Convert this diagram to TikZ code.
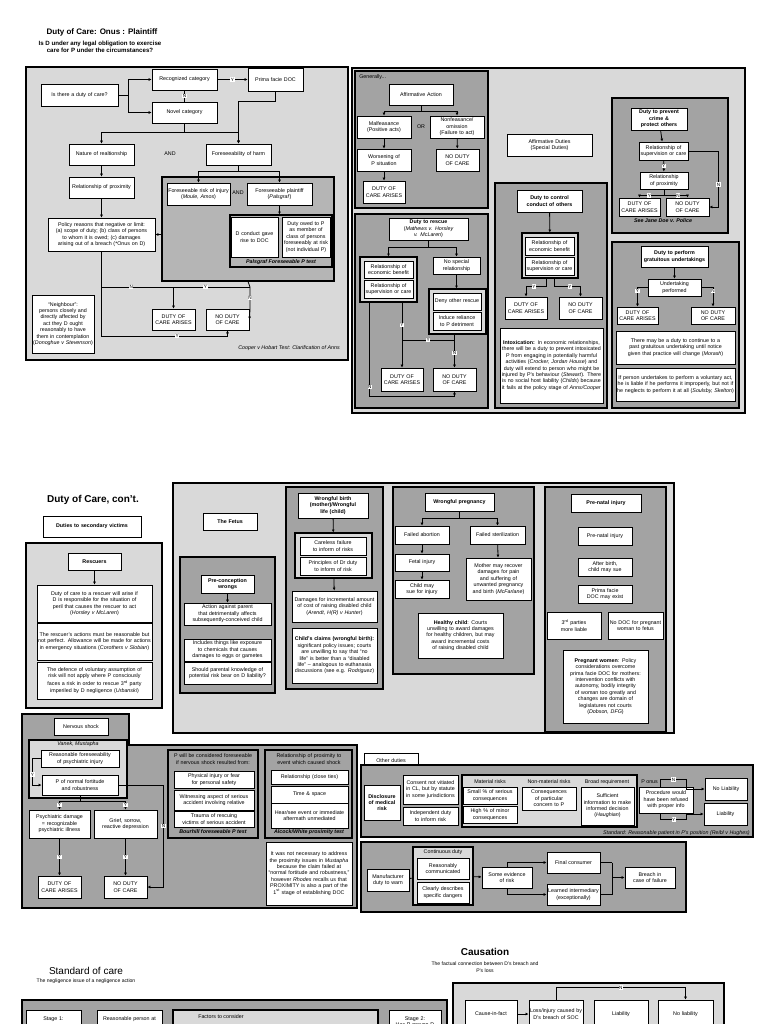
\documentclass[tikz,border=0pt]{standalone}
\usepackage{fontspec}
\setmainfont{Liberation Sans}
\usetikzlibrary{arrows.meta}
\hyphenpenalty=10000 \exhyphenpenalty=10000
\newcommand\fs{\fontsize{4}{4.8}\selectfont}
\newcommand\bxx[7][bx]{\pgfmathsetmacro\bw{#5*0.75}\pgfmathsetmacro\bh{#6*0.75}\pgfmathsetmacro\tw{max(#5*0.75-1.5,1)}\node[#1,minimum width=\bw pt,minimum height=\bh pt,text width=\tw pt] (#2) at ({#3+#5/2},{#4+#6/2}) {#7};}
\tikzset{
 bx/.style={draw,fill=white,line width=0.7pt,align=center,font=\fs,inner sep=0.5pt},
 pl/.style={draw,fill=gray!30,line width=0.8pt,inner sep=0pt},
 pd/.style={draw,fill=gray!72,line width=0.8pt,inner sep=0pt},
 pm/.style={draw,fill=gray!58,line width=0.8pt,inner sep=0pt},
 ln/.style={line width=0.6pt},
 arr/.style={line width=0.6pt,-{Latex[length=2.2pt,width=2.2pt]}},
 lbl/.style={fill=white,font=\fontsize{3.5}{4}\selectfont,inner sep=0.4pt},
 captxt/.style={font=\fs\itshape,inner sep=0pt},
 tx/.style={font=\fs,inner sep=0pt,align=center}
}
\begin{document}
\begin{tikzpicture}[x=0.75pt,y=-0.75pt]
\useasboundingbox (0,0) rectangle (768,1024);
\clip (0,0) rectangle (768,1024);
% ---------- Top left ----------
\node[font=\fontsize{6}{7}\selectfont\bfseries] (t1) at (102,32) {Duty of Care: Onus : Plaintiff};
\node[font=\fontsize{4.6}{5.6}\selectfont\bfseries,align=center] (t1b) at (100,47) {Is D under any legal obligation to exercise\\care for P under the circumstances?};
\bxx[pl]{tlp}{26}{67}{322}{293}{}
\bxx{isdoc}{41}{84}{77}{22}{Is there a duty of care?}
\bxx{rec}{152}{69}{65}{21}{Recognized category}
\bxx{pf}{248}{68}{55}{23}{Prima facie DOC}
\bxx{nov}{152}{102}{65}{21}{Novel category}
\bxx{nat}{69}{144}{65}{21}{Nature of realtionship}
\node[tx] (and1) at (170,154) {AND};
\bxx{foh}{206}{144}{65}{21}{Foreseeability of harm}
\bxx{rop}{69}{177}{65}{21}{Relationship of proximity}
\bxx[pm]{fpan}{162}{177}{172}{104}{}
\bxx{fri}{167}{183}{63}{22}{Foreseeable risk of injury\\(\textit{Moule, Amos})}
\node[tx] (and2) at (238,193) {AND};
\bxx{fpl}{247}{183}{65}{22}{Foreseeable plaintiff\\(\textit{Palsgraf})}
\bxx[pm]{pals}{230}{215}{102}{52}{}
\bxx{dcg}{231}{217}{47}{40}{D conduct gave rise to DOC}
\bxx{dow}{282}{217}{48}{40}{Duty owed to P as member of class of persons foreseeably at risk (not individual P)}
\node[captxt] (palc) at (281,262) {\textbf{\textit{Palsgraf} Foreseeable P test}};
\bxx{pol}{48}{218}{107}{33}{Policy reasons that negative or limit: (a) scope of duty; (b) class of persons to whom it is owed; (c) damages arising out of a breach (*Onus on D)}
\bxx{nei}{32}{295}{62}{58}{``Neighbour'':\\persons closely and directly affected by act they D ought reasonably to have them in contemplation\\(\textit{Donoghue v Stevenson})}
\bxx{dca}{152}{309}{43}{21}{DUTY OF CARE ARISES}
\bxx{nda}{206}{309}{43}{21}{NO DUTY OF CARE}
\node[captxt,anchor=east] (cpc) at (340,348) {Cooper v Hobart Test: Clarification of Anns};
\draw[ln] (isdoc.east) -- ++(10,0) coordinate (s1);
\draw[arr] (s1) |- (rec.west);
\draw[arr] (s1) |- (nov.west);
\draw[arr] (rec) -- node[lbl]{Y} (pf);
\draw[ln] (rec) -- node[lbl]{N} (nov);
\draw[arr] (pf.south) -- ++(0,10) -| (foh.north);
\draw[ln] (nov.south) -- ++(0,9) coordinate (s2);
\draw[arr] (s2) -| (nat.north);
\draw[arr] (s2) -| (foh.north);
\draw[arr] (nat) -- (rop);
\draw[arr] (rop) -- (pol);
\draw[ln] (foh.south) -- ++(0,6) coordinate (s3);
\draw[arr] (s3) -| (fri.north);
\draw[arr] (s3) -| (fpl.north);
\draw[arr] (fpl.south) -- (fpl.south |- pals.north);
\draw[arr] (fpan.west |- pol.east) -- (pol.east);
\coordinate (j1) at (101.5,287);
\coordinate (j2) at (250,287);
\draw[ln] (pol.south) -- (j1);
\draw[ln] (fpan.south) -- (j2);
\draw[ln] (j1) -- node[lbl,pos=.2]{N} node[lbl,pos=.7]{Y} (j2);
\draw[arr] (j1 -| dca.north) -- (dca.north);
\draw[arr] (j2) -- node[lbl]{N} ++(0,22) -- (nda.east);
\draw[arr] (j1) -- ++(0,49) -| node[lbl,pos=.3]{Y} (nda.south);
% ---------- Top right ----------
\bxx[pl]{trp}{352}{68}{393}{345}{}
\bxx[pd]{genp}{355}{71}{133}{137}{}
\node[tx,anchor=west] (gen) at (359,77) {Generally...};
\bxx{aff}{389}{84}{64}{21}{Affirmative Action}
\bxx{mal}{357}{116}{54}{22}{Malfeasance\\(Positive acts)}
\node[tx] (or1) at (421,127) {OR};
\bxx{non}{430}{116}{54}{22}{Nonfeasance/\\omission\\(Failure to act)}
\bxx{wor}{357}{149}{54}{22}{Worsening of P situation}
\bxx{nd2}{436}{149}{43}{22}{NO DUTY OF CARE}
\bxx{dca2}{363}{181}{42}{22}{DUTY OF CARE ARISES}
\draw[ln] (aff.south) -- ++(0,6) coordinate (a1);
\draw[arr] (a1) -| (mal.north);
\draw[arr] (a1) -| (non.north);
\draw[arr] (mal) -- (wor);
\draw[arr] (wor) -- (dca2);
\draw[arr] (non) -- (nd2);
\bxx{afd}{507}{134}{85}{22}{Affirmative Duties\\(Special Duties)}
% rescue
\bxx[pd]{resp}{355}{214}{133}{194}{}
\bxx{res}{389}{218}{79}{22}{\textbf{Duty to rescue}\\(\textit{Mathews v. Horsley v. McLaren})}
\bxx[pl]{rfl}{360}{257}{57}{45}{}
\bxx{reb}{364}{261}{49}{17}{Relationship of economic benefit}
\bxx{rsc}{364}{280}{49}{18}{Relationship of supervision or care}
\bxx{nsr}{433}{257}{47}{17}{No special relationship}
\bxx[pl]{rfr}{429}{289}{57}{45}{}
\bxx{dor}{433}{293}{48}{17}{Deny other rescue}
\bxx{irp}{433}{312}{48}{18}{Induce reliance to P detriment}
\bxx{dca3}{381}{368}{42}{23}{DUTY OF CARE ARISES}
\bxx{nd3}{433}{368}{43}{23}{NO DUTY OF CARE}
\draw[ln] (res.south) -- ++(0,7) coordinate (r1);
\draw[arr] (r1) -| (rfl.north);
\draw[arr] (r1) -| (nsr.north);
\draw[arr] (nsr.south) -- (nsr.south |- rfr.north);
\draw[arr] (dca3.north |- rfl.south) -- node[lbl,pos=.35]{Y} (dca3.north);
\draw[arr] ([xshift=-14pt]rfl.south) -- ([xshift=-14pt]rfl.south |- 0,396) node[lbl,pos=.9]{N} -| (nd3.south);
\draw[arr] (nd3.north |- rfr.south) -- node[lbl,pos=.55]{N} (nd3.north);
\draw[ln] (nd3.north |- 0,340) -- node[lbl]{Y} (dca3.north |- 0,340);
% control
\bxx[pd]{ccp}{495}{183}{112}{225}{}
\bxx{dcc}{517}{190}{65}{22}{\textbf{Duty to control conduct of others}}
\bxx[pl]{cfr}{522}{233}{56}{45}{}
\bxx{ceb}{525}{237}{49}{18}{Relationship of economic benefit}
\bxx{csc}{525}{257}{49}{18}{Relationship of supervision or care}
\bxx{dca4}{505}{297}{42}{22}{DUTY OF CARE ARISES}
\bxx{nd4}{559}{297}{43}{22}{NO DUTY OF CARE}
\bxx{intx}{500}{328}{103}{75}{\textbf{Intoxication:} In economic relationships, there will be a duty to prevent intoxicated P from engaging in potentially harmful activities (\textit{Crocker, Jordan House}) and duty will extend to person who might be injured by P's behaviour (\textit{Stewart}). There is no social host liability (\textit{Childs}) because it fails at the policy stage of \textit{Anns/Cooper}}
\draw[arr] (dcc) -- (cfr);
\draw[arr] ([xshift=-3pt]cfr.south) -- ++(0,8) -| node[lbl,pos=.3]{Y} (dca4.north);
\draw[arr] ([xshift=3pt]cfr.south) -- ++(0,8) -| node[lbl,pos=.3]{Y} (nd4.north);
% prevent crime
\bxx[pd]{pcp}{612}{98}{116}{135}{}
\bxx{pcr}{631}{108}{56}{22}{\textbf{Duty to prevent crime \& protect others}}
\bxx{pcs}{639}{142}{49}{18}{Relationship of supervision or care}
\bxx{pcx}{640}{172}{48}{17}{Relationship of proximity}
\bxx{dca5}{619}{198}{41}{18}{DUTY OF CARE ARISES}
\bxx{nd5}{666}{198}{43}{18}{NO DUTY OF CARE}
\node[captxt] (jd) at (663,221) {\textbf{See \textit{Jane Doe v. Police}}};
\draw[arr] (pcr) -- (pcs);
\draw[arr] (pcs) -- node[lbl]{Y} (pcx);
\draw[ln] (pcx.south) -- ++(0,6) coordinate (p1);
\draw[arr] (p1) -| node[lbl,pos=.3]{Y} (dca5.north);
\draw[arr] (p1) -| node[lbl,pos=.3]{N} (nd5.north);
\draw[arr] (pcs.east) -- ++(30,0) |- node[lbl,pos=.3]{N} (nd5.east);
% gratuitous
\bxx[pd]{gup}{612}{242}{127}{166}{}
\bxx{gdu}{641}{246}{67}{21}{\textbf{Duty to perform gratuitous undertakings}}
\bxx{und}{648}{279}{53}{17}{Undertaking performed}
\bxx{dca6}{617}{307}{41}{17}{DUTY OF CARE ARISES}
\bxx{nd6}{691}{307}{44}{17}{NO DUTY OF CARE}
\bxx{tmb}{616}{331}{119}{33}{There may be a duty to continue to a past gratuitous undertaking until notice given that practice will change (\textit{Morash})}
\bxx{ipu}{616}{368}{119}{33}{If person undertakes to perform a voluntary act, he is liable if he performs it improperly, but not if he neglects to perform it at all (\textit{Soulsby, Skelton})}
\draw[arr] (gdu) -- (und);
\draw[arr] (und.west) -| node[lbl,pos=.6]{Y} (dca6.north);
\draw[arr] (und.east) -| node[lbl,pos=.6]{N} (nd6.north);
% ---------- Middle ----------
\node[font=\fontsize{7.5}{9}\selectfont\bfseries] (t2) at (93,500) {Duty of Care, con't.};
\bxx{dsv}{43}{516}{98}{21}{\textbf{Duties to secondary victims}}
\bxx[pl]{rsp}{26}{543}{136}{165}{}
\bxx{resc}{68}{553}{53}{17}{\textbf{Rescuers}}
\bxx{rs1}{37}{585}{115}{37}{Duty of care to a rescuer will arise if D is responsible for the situation of peril that causes the rescuer to act\\(\textit{Horsley v McLaren})}
\bxx{rs2}{37}{623}{115}{37}{The rescuer's actions must be reasonable but not perfect. Allowance will be made for actions in emergency situations (\textit{Corothers v Slobian})}
\bxx{rs3}{37}{662}{115}{37}{The defence of voluntary assumption of risk will not apply where P consciously faces a risk in order to rescue 3\textsuperscript{rd} party imperiled by D negligence (\textit{Urbanski})}
\draw[arr] (resc) -- (rs1);
\bxx[pl]{fep}{173}{483}{501}{250}{}
\bxx{fet0}{203}{513}{54}{17}{\textbf{The Fetus}}
\bxx[pd]{pcwp}{180}{557}{95}{136}{}
\bxx{pcw}{201}{575}{53}{18}{\textbf{Pre-conception wrongs}}
\bxx{act}{184}{603}{87}{22}{Action against parent that detrimentally affects subsequently-conceived child}
\bxx{inc}{184}{639}{87}{22}{Includes things like exposure to chemicals that causes damages to eggs or gametes}
\bxx{spk}{184}{662}{87}{22}{Should parental knowledge of potential risk bear on D liability?}
\draw[arr] (pcw) -- (act);
\bxx[pd]{wbp}{286}{487}{97}{202}{}
\bxx{wb}{298}{493}{70}{25}{\textbf{Wrongful birth (mother)/Wrongful life (child)}}
\bxx[pl]{wbf}{295}{533}{77}{45}{}
\bxx{cfi}{300}{537}{66}{18}{Careless failure to inform of risks}
\bxx{pdd}{300}{557}{66}{18}{Principles of Dr duty to inform of risk}
\bxx{dmg}{292}{591}{85}{31}{Damages for incremental amount of cost of raising disabled child\\(\textit{Arendt, H(R) v Hunter})}
\bxx{chc}{292}{628}{85}{55}{\textbf{Child's claims (wrongful birth):} significant policy issues; courts are unwilling to say that ``no life'' is better than a ``disabled life'' -- analogous to euthanasia discussions (see e.g. \textit{Rodriguez})}
\draw[arr] (wb) -- (wbf);
\draw[arr] (wbf) -- (dmg);
\bxx[pd]{wpp}{393}{487}{141}{187}{}
\bxx{wp}{425}{493}{69}{18}{\textbf{Wrongful pregnancy}}
\bxx{fab}{395}{526}{54}{18}{Failed abortion}
\bxx{fst}{470}{526}{55}{18}{Failed sterilization}
\bxx{fti}{395}{554}{54}{17}{Fetal injury}
\bxx{cms}{395}{580}{54}{18}{Child may sue for injury}
\bxx{mmr}{466}{558}{65}{42}{Mother may recover damages for pain and suffering of unwanted pregnancy and birth (\textit{McFarlane})}
\bxx{hch}{418}{613}{85}{45}{\textbf{Healthy child}: Courts unwilling to award damages for healthy children, but may award incremental costs of raising disabled child}
\draw[ln] (wp.south) -- ++(0,7) coordinate (w1);
\draw[arr] (w1) -| (fab.north);
\draw[arr] (w1) -| (fst.north);
\draw[arr] (fab) -- (fti);
\draw[arr] (fti) -- (cms);
\draw[arr] (fst) -- (mmr);
\bxx[pd]{pnp}{545}{487}{121}{245}{}
\bxx{pni0}{571}{494}{70}{18}{\textbf{Pre-natal injury}}
\bxx{pni}{578}{527}{54}{18}{Pre-natal injury}
\bxx{abc}{578}{558}{54}{18}{After birth, child may sue}
\bxx{pfd}{578}{585}{54}{18}{Prima facie DOC may exist}
\bxx{tpl}{547}{612}{54}{27}{3\textsuperscript{rd} parties more liable}
\bxx{ndp}{608}{612}{55}{27}{No DOC for pregnant woman to fetus}
\bxx{pgw}{563}{650}{85}{73}{\textbf{Pregnant women}: Policy considerations overcome prima facie DOC for mothers: intervention conflicts with autonomy, bodily integrity of woman too greatly and changes are domain of legislatures not courts\\(\textit{Dobson, DFG})}
% ---------- Nervous shock ----------
\draw[line width=0.8pt,fill=gray!72] (22,714) -- (129,714) -- (129,745) -- (357,745) -- (357,908) -- (22,908) -- cycle;
\bxx{nsh}{54}{718}{54}{17}{Nervous shock}
\bxx[pl]{vmf}{29}{740}{98}{58}{}
\node[captxt] (vm) at (78,744) {Vanek, Mustapha};
\bxx{rfp}{41}{750}{78}{17}{Reasonable foreseeability of psychiatric injury}
\bxx{pnf}{42}{775}{76}{20}{P of normal fortitude and robustness}
\bxx{psy}{29}{810}{61}{28}{Psychiatric damage = recognizable psychiatric illness}
\bxx{gri}{94}{810}{63}{28}{Grief, sorrow, reactive depression}
\bxx{dca7}{38}{876}{43}{22}{DUTY OF CARE ARISES}
\bxx{nd7}{104}{876}{43}{22}{NO DUTY OF CARE}
\draw[arr] (rfp.west) -- ++(-8,0) |- node[lbl,pos=.3]{Y} (pnf.west);
\draw[ln] (pnf.south) -- ++(0,6) coordinate (n1);
\draw[arr] (n1) -| node[lbl,pos=.7]{Y} (psy.north);
\draw[arr] (n1) -| node[lbl,pos=.7]{Y} (gri.north);
\draw[arr] (psy) -- node[lbl]{Y} (dca7);
\draw[arr] (gri) -- node[lbl]{Y} (nd7);
\draw[arr] (pnf.east) -- ++(45,0) |- node[lbl,pos=.2]{N} (nd7.east);
\bxx[pd]{bhp}{168}{750}{90}{88}{}
\node[tx,font=\fs,text width=64pt] (bht) at (213,759) {P will be considered foreseeable if nervous shock resulted from:};
\bxx{phy}{174}{771}{80}{17}{Physical injury or fear for personal safety}
\bxx{wit}{174}{790}{80}{20}{Witnessing aspect of serious accident involving relative}
\bxx{tra}{174}{811}{80}{16}{Trauma of rescuing victims of serious accident}
\node[captxt] (bhc) at (213,832) {\textbf{\textit{Bourhill} foreseeable P test}};
\bxx[pd]{alp}{265}{750}{87}{88}{}
\node[tx,text width=62pt] (alt) at (309,759) {Relationship of proximity to event which caused shock};
\bxx{clt}{271}{770}{77}{14}{Relationship (close ties)}
\bxx{tsp}{271}{786}{77}{17}{Time \& space}
\bxx{hse}{271}{803}{77}{25}{Hear/see event or immediate aftermath unmediated}
\node[captxt] (alc) at (309,832) {\textbf{\textit{Alcock/White} proximity test}};
\bxx{inn}{266}{842}{86}{63}{It was not necessary to address the proximity issues in \textit{Mustapha} because the claim failed at ``normal fortitude and robustness,'' however \textit{Rhodes} recalls us that PROXIMITY is also a part of the 1\textsuperscript{st} stage of establishing DOC}
% ---------- Other duties ----------
\bxx{odu}{364}{753}{54}{16}{Other duties}
\bxx[pd]{dmp}{361}{765}{392}{72}{}
\bxx{dmr}{364}{785}{36}{35}{\textbf{Disclosure of medical risk}}
\bxx{cnv}{403}{775}{55}{29}{Consent not vitiated in CL, but by statute in some jurisdictions}
\bxx{idi}{403}{807}{55}{18}{Independent duty to inform risk}
\bxx[pl]{mfr}{462}{775}{175}{52}{}
\node[tx] (mr) at (490,782) {Material risks};
\node[tx] (nmr) at (549,782) {Non-material risks};
\node[tx] (brr) at (607,782) {Broad requirement};
\bxx{smp}{463}{787}{54}{17}{Small \% of serious consequences}
\bxx{hmp}{463}{806}{54}{17}{High \% of minor consequences}
\bxx{cpc2}{522}{787}{54}{23}{Consequences of particular concern to P}
\bxx{sif}{581}{787}{53}{38}{Sufficient information to make informed decision\\(\textit{Haughian})}
\node[tx,anchor=west] (pon) at (641,782) {P onus};
\bxx{pro}{639}{787}{54}{26}{Procedure would have been refused with proper info}
\bxx{nol}{705}{778}{42}{22}{No Liability}
\bxx{lia}{704}{803}{43}{22}{Liability}
\node[captxt,anchor=east] (stp) at (750,833) {Standard: Reasonable patient in P's position (\textit{Reibl v Hughes})};
\draw[arr] ([xshift=-4pt]pro.north) -- ++(0,-7) -- node[lbl]{N} ++(26,0) |- (nol.west);
\draw[arr] ([xshift=-4pt]pro.south) -- ++(0,6) -- node[lbl]{Y} ++(26,0) |- (lia.west);
\bxx[pd]{mwp}{361}{842}{325}{70}{}
\bxx{mdw}{367}{869}{42}{22}{Manufacturer duty to warn}
\bxx[pl]{cdf}{413}{847}{60}{58}{}
\node[tx] (cdt) at (443,852) {Continuous duty};
\bxx{rco}{417}{858}{52}{21}{Reasonably communicated}
\bxx{cds}{417}{882}{52}{21}{Clearly describes specific dangers}
\bxx{ser}{482}{867}{50}{21}{Some evidence of risk}
\bxx{fin}{547}{852}{53}{21}{Final consumer}
\bxx{lin}{547}{884}{53}{21}{Learned intermediary (exceptionally)}
\bxx{bic}{625}{867}{50}{21}{Breach in case of failure}
\draw[ln] (mdw) -- (cdf);
\draw[arr] (cdf) -- (ser);
\draw[arr] (ser.north) |- (fin.west);
\draw[arr] (ser.south) |- (lin.west);
\draw[ln] (fin.east) -- ++(12,0) coordinate (m1);
\draw[ln] (lin.east) -- ++(12,0) coordinate (m2);
\draw[ln] (m1) -- (m2);
\draw[arr] (m1 |- bic.west) -- (bic.west);
% ---------- Standard of care ----------
\node[font=\fontsize{7.5}{9}\selectfont] (t3) at (86,971) {Standard of care};
\node[font=\fontsize{3.8}{4.5}\selectfont] (t3b) at (86,981) {The negligence issue of a negligence action};
\bxx[pd]{scp}{22}{1000}{425}{40}{}
\bxx{st1}{26}{1010}{55}{18}{Stage 1:}
\bxx{rpa}{97}{1010}{65}{18}{Reasonable person at}
\bxx[pl]{fcf}{173}{1010}{205}{30}{}
\node[tx,anchor=west] (fct) at (198,1017) {Factors to consider};
\bxx{st2}{389}{1010}{52}{24}{Stage 2:\\Has P proven D}
% ---------- Causation ----------
\node[font=\fontsize{7.5}{9}\selectfont\bfseries] (t4) at (485,952) {Causation};
\node[font=\fontsize{3.8}{5.5}\selectfont,align=center] (t4b) at (485,967) {The factual connection between D's breach and\\P's loss};
\bxx[pl]{cap0}{453}{983}{271}{60}{}
\bxx{cif}{465}{1000}{52}{28}{Cause-in-fact}
\bxx{los}{529}{1000}{54}{28}{Loss/injury caused by D's breach of SOC}
\bxx{lib}{594}{1000}{54}{28}{Liability}
\bxx{nol2}{658}{1000}{55}{28}{No liability}
\draw[arr] (cif) -- (los);
\draw[arr] (los.north) -- ++(0,-12) -| node[lbl,pos=.25]{N} (nol2.north);
\end{tikzpicture}
\end{document}
